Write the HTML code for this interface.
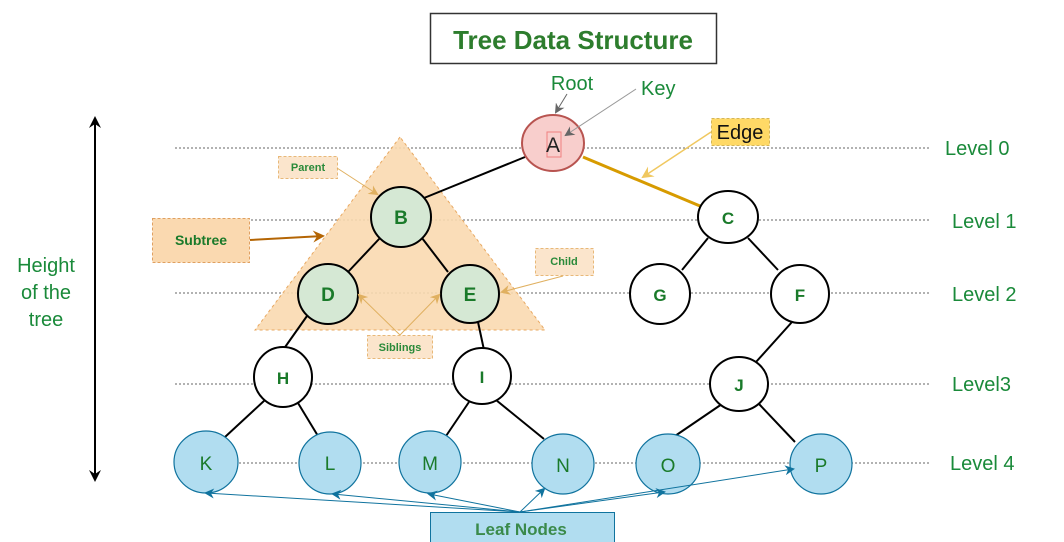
<!DOCTYPE html>
<html><head><meta charset="utf-8"><style>html,body{margin:0;padding:0;background:#fff}svg{display:block}text{font-family:"Liberation Sans",Arial,sans-serif}</style></head>
<body>
<svg width="1064" height="542" viewBox="0 0 1064 542" xmlns="http://www.w3.org/2000/svg">
<defs>
<marker id="ab" markerWidth="12" markerHeight="12" refX="10" refY="6" orient="auto-start-reverse" markerUnits="userSpaceOnUse"><path d="M0,0 L12,6 L0,12 L4,6 z" fill="#000"/></marker>
<marker id="ag" markerWidth="10" markerHeight="10" refX="8" refY="5" orient="auto" markerUnits="userSpaceOnUse"><path d="M0,0 L10,5 L0,10 L3,5 z" fill="#666"/></marker>
<marker id="ao" markerWidth="12" markerHeight="12" refX="10" refY="6" orient="auto" markerUnits="userSpaceOnUse"><path d="M0,0 L12,6 L0,12 L4,6 z" fill="#b46504"/></marker>
<marker id="al" markerWidth="10" markerHeight="10" refX="8" refY="5" orient="auto" markerUnits="userSpaceOnUse"><path d="M0,0 L10,5 L0,10 L3,5 z" fill="#e0b060"/></marker>
<marker id="ay" markerWidth="12" markerHeight="12" refX="10" refY="6" orient="auto" markerUnits="userSpaceOnUse"><path d="M0,0 L12,6 L0,12 L4,6 z" fill="#f0c860"/></marker>
<marker id="au" markerWidth="10" markerHeight="10" refX="8" refY="5" orient="auto" markerUnits="userSpaceOnUse"><path d="M0,0 L10,5 L0,10 L3,5 z" fill="#10739e"/></marker>
</defs>
<rect x="430.5" y="13.5" width="286" height="50" fill="#fff" stroke="#333" stroke-width="1.5"/>
<text x="573" y="49" font-size="26" font-weight="bold" fill="#2d7d2d" text-anchor="middle">Tree Data Structure</text>
<g stroke="#999" stroke-width="1.5" stroke-dasharray="2,2">
<line x1="175" y1="148" x2="930" y2="148"/>
<line x1="175" y1="220" x2="930" y2="220"/>
<line x1="175" y1="293" x2="930" y2="293"/>
<line x1="175" y1="384" x2="930" y2="384"/>
<line x1="175" y1="463" x2="930" y2="463"/>
</g>
<polygon points="400,137 255,330 545,330" fill="#fad9b0" fill-opacity="0.9" stroke="#e8a860" stroke-dasharray="3,3" stroke-width="1"/>
<g fill="#1a8a3a" font-size="20">
<text x="945" y="155">Level 0</text>
<text x="952" y="228">Level 1</text>
<text x="952" y="301">Level 2</text>
<text x="952" y="391">Level3</text>
<text x="950" y="470">Level 4</text>
</g>
<line x1="95" y1="118" x2="95" y2="480" stroke="#000" stroke-width="2" marker-end="url(#ab)" marker-start="url(#ab)"/>
<g fill="#1a8a3a" font-size="20" text-anchor="middle">
<text x="46" y="272">Height</text><text x="46" y="299">of the</text><text x="46" y="326">tree</text>
</g>
<g stroke="#000" stroke-width="2">
<line x1="525" y1="157" x2="424" y2="198"/>
<line x1="380" y1="238" x2="348" y2="272"/>
<line x1="422" y1="238" x2="448" y2="272"/>
<line x1="307" y1="316" x2="283" y2="350"/>
<line x1="478" y1="322" x2="484" y2="350"/>
<line x1="708" y1="238" x2="682" y2="270"/>
<line x1="748" y1="238" x2="778" y2="270"/>
<line x1="792" y1="322" x2="756" y2="362"/>
<line x1="265" y1="400" x2="225" y2="437"/>
<line x1="298" y1="403" x2="318" y2="436"/>
<line x1="469" y1="402" x2="446" y2="436"/>
<line x1="496" y1="400" x2="544" y2="439"/>
<line x1="722" y1="404" x2="675" y2="436"/>
<line x1="759" y1="404" x2="795" y2="442"/>
</g>
<line x1="583" y1="157" x2="700" y2="206" stroke="#d79b00" stroke-width="3"/>
<g stroke="#000" stroke-width="2">
<ellipse cx="553" cy="143" rx="31" ry="28" fill="#f8cecc" stroke="#b85450"/>
<circle cx="401" cy="217" r="30" fill="#d5e8d4"/>
<circle cx="328" cy="294" r="30" fill="#d5e8d4"/>
<circle cx="470" cy="294" r="29" fill="#d5e8d4"/>
<ellipse cx="728" cy="217" rx="30" ry="26" fill="#fff"/>
<circle cx="660" cy="294" r="30" fill="#fff"/>
<circle cx="800" cy="294" r="29" fill="#fff"/>
<ellipse cx="283" cy="377" rx="29" ry="30" fill="#fff"/>
<ellipse cx="482" cy="376" rx="29" ry="28" fill="#fff"/>
<ellipse cx="739" cy="384" rx="29" ry="27" fill="#fff"/>
</g>
<g stroke="#10739e" stroke-width="1.2" fill="#b1ddf0">
<ellipse cx="206" cy="462" rx="32" ry="31"/>
<ellipse cx="330" cy="463" rx="31" ry="31"/>
<ellipse cx="430" cy="462" rx="31" ry="31"/>
<ellipse cx="563" cy="464" rx="31" ry="30"/>
<ellipse cx="668" cy="464" rx="32" ry="30"/>
<ellipse cx="821" cy="464" rx="31" ry="30"/>
</g>
<rect x="547" y="132" width="14" height="25" fill="none" stroke="#f08080" stroke-width="1"/>
<text x="553" y="152" font-size="21" text-anchor="middle" fill="#222">A</text>
<g fill="#1a7a2a" font-size="19" font-weight="bold" text-anchor="middle">
<text x="401" y="224">B</text><text x="328" y="301">D</text><text x="470" y="301">E</text>
<text x="728" y="224" font-size="17">C</text><text x="660" y="301" font-size="17">G</text><text x="800" y="301" font-size="17">F</text>
<text x="283" y="384" font-size="17">H</text><text x="482" y="383" font-size="17">I</text><text x="739" y="391" font-size="17">J</text>
</g>
<g fill="#1a7a2a" font-size="19" text-anchor="middle">
<text x="206" y="470">K</text><text x="330" y="470">L</text><text x="430" y="470">M</text><text x="563" y="472">N</text><text x="668" y="472">O</text><text x="821" y="472">P</text>
</g>
<text x="572" y="90" font-size="20" fill="#1a8a3a" text-anchor="middle">Root</text>
<text x="641" y="95" font-size="20" fill="#1a8a3a">Key</text>
<line x1="567" y1="94" x2="556" y2="112" stroke="#666" stroke-width="1" marker-end="url(#ag)"/>
<line x1="636" y1="89" x2="566" y2="135" stroke="#999" stroke-width="1" marker-end="url(#ag)"/>
<rect x="711.5" y="118.5" width="58" height="27" fill="#ffd966" stroke="#d6b656" stroke-dasharray="3,2"/>
<text x="740" y="139" font-size="20" fill="#111" text-anchor="middle">Edge</text>
<line x1="711" y1="132" x2="643" y2="177" stroke="#f0c860" stroke-width="1.5" marker-end="url(#ay)"/>
<rect x="278.5" y="156.5" width="59" height="22" fill="#fbe5cc" stroke="#e8b878" stroke-dasharray="3,2"/>
<text x="308" y="171" font-size="11" font-weight="bold" fill="#2a8a3a" text-anchor="middle">Parent</text>
<line x1="337" y1="168" x2="377" y2="194" stroke="#e0b060" stroke-width="1" marker-end="url(#al)"/>
<rect x="152.5" y="218.5" width="97" height="44" fill="#fad9b0" stroke="#e0a060" stroke-dasharray="3,2"/>
<text x="201" y="245" font-size="14" font-weight="bold" fill="#1a7a2a" text-anchor="middle">Subtree</text>
<line x1="250" y1="240" x2="323" y2="236" stroke="#b46504" stroke-width="2" marker-end="url(#ao)"/>
<rect x="535.5" y="248.5" width="58" height="27" fill="#fbe5cc" stroke="#e8b878" stroke-dasharray="3,2"/>
<text x="564" y="265" font-size="11" font-weight="bold" fill="#2a8a3a" text-anchor="middle">Child</text>
<line x1="563" y1="276" x2="502" y2="292" stroke="#e0b060" stroke-width="1" marker-end="url(#al)"/>
<rect x="367.5" y="335.5" width="65" height="23" fill="#fbe5cc" stroke="#e8b878" stroke-dasharray="3,2"/>
<text x="400" y="351" font-size="11" font-weight="bold" fill="#2a8a3a" text-anchor="middle">Siblings</text>
<line x1="400" y1="335" x2="359" y2="295" stroke="#e0b060" stroke-width="1" marker-end="url(#al)"/>
<line x1="400" y1="335" x2="439" y2="295" stroke="#e0b060" stroke-width="1" marker-end="url(#al)"/>
<g stroke="#10739e" stroke-width="1" fill="none">
<line x1="520" y1="512" x2="206" y2="493" marker-end="url(#au)"/>
<line x1="520" y1="512" x2="333" y2="494" marker-end="url(#au)"/>
<line x1="520" y1="512" x2="429" y2="494" marker-end="url(#au)"/>
<line x1="520" y1="512" x2="544" y2="489" marker-end="url(#au)"/>
<line x1="520" y1="512" x2="664" y2="492" marker-end="url(#au)"/>
<line x1="520" y1="512" x2="793" y2="469" marker-end="url(#au)"/>
</g>
<rect x="430.5" y="512.5" width="184" height="32" fill="#b1ddf0" stroke="#10739e" stroke-width="1"/>
<text x="521" y="535" font-size="17" font-weight="bold" fill="#3a8a4a" text-anchor="middle">Leaf Nodes</text>
</svg>
</body></html>
